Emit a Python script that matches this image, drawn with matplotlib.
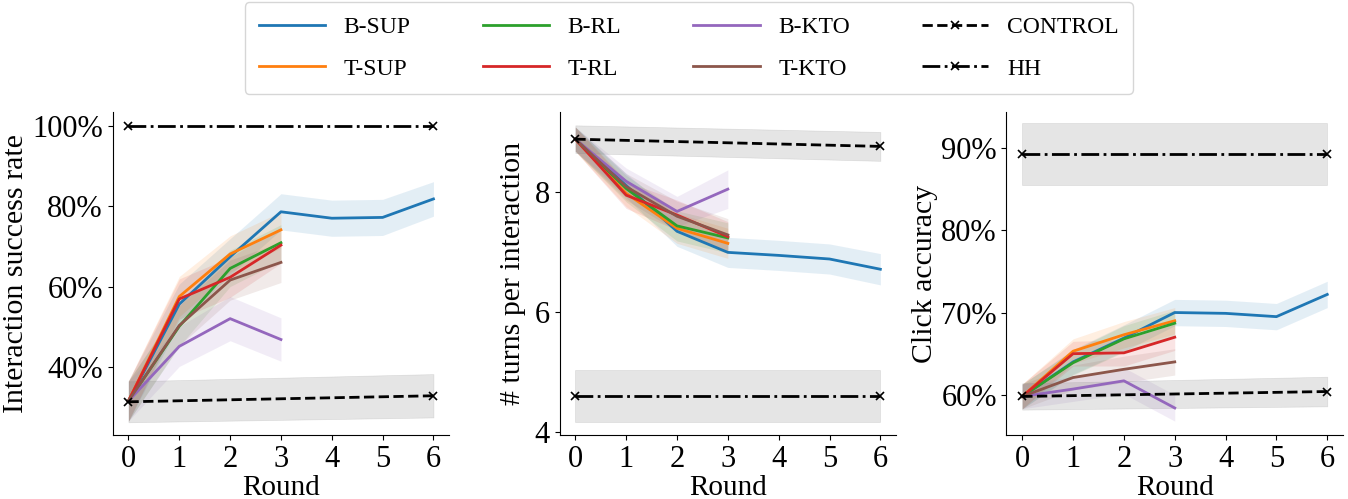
import matplotlib
matplotlib.use('Agg')
import matplotlib.pyplot as plt
from matplotlib.ticker import FuncFormatter

plt.rcParams['font.family'] = ['Liberation Serif', 'DejaVu Serif']

ROUNDS = [0, 1, 2, 3, 4, 5, 6]
BASE_ROUNDS = [0, 6]

METHODS = ['B-SUP', 'T-SUP', 'B-RL', 'T-RL', 'B-KTO', 'T-KTO']
METHOD_COLORS = {
    'B-SUP': '#1f77b4',
    'T-SUP': '#ff7f0e',
    'B-RL': '#2ca02c',
    'T-RL': '#d62728',
    'B-KTO': '#9467bd',
    'T-KTO': '#8c564b',
}

# interaction success rate (%)
success_mean = {
    'B-SUP': [31.5, 55.6, 67.4, 78.6, 77.0, 77.2, 81.8],
    'T-SUP': [31.5, 57.5, 68.1, 74.1],
    'B-RL': [31.5, 50.1, 64.5, 70.9],
    'T-RL': [31.5, 56.9, 62.3, 70.3],
    'B-KTO': [31.5, 45.1, 52.0, 46.8],
    'T-KTO': [31.5, 50.3, 61.6, 66.0],
}
success_err = {
    'B-SUP': [5.0, 5.0, 4.5, 4.5, 4.5, 4.5, 4.3],
    'T-SUP': [5.0, 5.0, 4.5, 4.5],
    'B-RL': [5.0, 5.0, 4.5, 4.5],
    'T-RL': [5.0, 5.0, 5.0, 4.5],
    'B-KTO': [5.0, 5.0, 5.5, 5.4],
    'T-KTO': [5.0, 5.0, 5.0, 5.0],
}
success_control = [31.3, 32.8]
success_control_err = [5.1, 5.4]
success_hh = [100.0, 100.0]
success_hh_err = [0.0, 0.0]

# turns per interaction
turns_mean = {
    'B-SUP': [8.87, 8.10, 7.34, 6.99, 6.94, 6.88, 6.71],
    'T-SUP': [8.87, 7.97, 7.39, 7.14],
    'B-RL': [8.87, 8.05, 7.43, 7.23],
    'T-RL': [8.87, 7.94, 7.61, 7.25],
    'B-KTO': [8.87, 8.17, 7.67, 8.04],
    'T-KTO': [8.87, 8.08, 7.59, 7.28],
}
turns_err = {
    'B-SUP': [0.2, 0.2, 0.25, 0.25, 0.25, 0.25, 0.26],
    'T-SUP': [0.2, 0.22, 0.25, 0.25],
    'B-RL': [0.2, 0.22, 0.25, 0.25],
    'T-RL': [0.2, 0.22, 0.25, 0.25],
    'B-KTO': [0.2, 0.22, 0.25, 0.32],
    'T-KTO': [0.2, 0.22, 0.25, 0.27],
}
turns_control = [8.87, 8.75]
turns_control_err = [0.23, 0.24]
turns_hh = [4.61, 4.61]
turns_hh_err = [0.43, 0.43]

# click accuracy (%)
click_mean = {
    'B-SUP': [59.8, 64.0, 66.9, 70.0, 69.9, 69.5, 72.2],
    'T-SUP': [59.8, 65.3, 67.3, 69.0],
    'B-RL': [59.8, 63.9, 66.8, 68.7],
    'T-RL': [59.8, 65.0, 65.1, 67.0],
    'B-KTO': [59.8, 60.7, 61.7, 58.4],
    'T-KTO': [59.8, 62.1, 63.1, 64.0],
}
click_err = {
    'B-SUP': [1.5, 1.5, 1.6, 1.6, 1.6, 1.6, 1.6],
    'T-SUP': [1.5, 1.5, 1.6, 1.6],
    'B-RL': [1.5, 1.5, 1.6, 1.6],
    'T-RL': [1.5, 1.5, 1.6, 1.6],
    'B-KTO': [1.5, 1.5, 1.6, 1.6],
    'T-KTO': [1.5, 1.5, 1.6, 1.6],
}
click_control = [59.8, 60.4]
click_control_err = [1.6, 1.8]
click_hh = [89.3, 89.3]
click_hh_err = [3.75, 3.75]


def draw_panel(ax, means, errs, control, control_err, hh, hh_err):
    for m in METHODS:
        y = means[m]
        e = errs[m]
        x = ROUNDS[:len(y)]
        c = METHOD_COLORS[m]
        ax.fill_between(x, [a - b for a, b in zip(y, e)], [a + b for a, b in zip(y, e)],
                        color=c, alpha=0.12, linewidth=0)
        ax.plot(x, y, color=c, linewidth=2, label=m)

    for vals, err, ls, lab in [(control, control_err, '--', 'CONTROL'), (hh, hh_err, '-.', 'HH')]:
        if max(err) > 0:
            ax.fill_between(BASE_ROUNDS, [a - b for a, b in zip(vals, err)],
                            [a + b for a, b in zip(vals, err)], color='gray', alpha=0.2, linewidth=0.5)
        ax.plot(BASE_ROUNDS, vals, color='black', linestyle=ls, linewidth=2,
                marker='x', markersize=6, markeredgewidth=1.2, label=lab)

    ax.spines['top'].set_visible(False)
    ax.spines['right'].set_visible(False)
    ax.set_xticks(ROUNDS)
    ax.set_xlim(-0.31, 6.31)
    ax.set_xlabel('Round', fontsize=21, labelpad=1)
    ax.tick_params(axis='both', labelsize=22)


fig, axes = plt.subplots(1, 3, figsize=(13.48, 4.99), dpi=100)
fig.subplots_adjust(left=0.0836, right=0.9963, bottom=0.128, top=0.776, wspace=0.328)

pct = FuncFormatter(lambda v, p: f'{v:.0f}%')

draw_panel(axes[0], success_mean, success_err, success_control, success_control_err,
           success_hh, success_hh_err)
axes[0].set_ylim(23.0, 103.5)
axes[0].set_yticks([40, 60, 80, 100])
axes[0].yaxis.set_major_formatter(pct)
axes[0].set_ylabel('Interaction success rate', fontsize=21.5, labelpad=2)

draw_panel(axes[1], turns_mean, turns_err, turns_control, turns_control_err,
           turns_hh, turns_hh_err)
axes[1].set_ylim(3.955, 9.325)
axes[1].set_yticks([4, 6, 8])
axes[1].set_ylabel('# turns per interaction', fontsize=21.5, labelpad=6)

draw_panel(axes[2], click_mean, click_err, click_control, click_control_err,
           click_hh, click_hh_err)
axes[2].set_ylim(55.1, 94.4)
axes[2].set_yticks([60, 70, 80, 90])
axes[2].yaxis.set_major_formatter(pct)
axes[2].set_ylabel('Click accuracy', fontsize=21.5, labelpad=2)

handles, labels = axes[0].get_legend_handles_labels()
fig.legend(handles, labels, loc='upper center', bbox_to_anchor=(0.511, 1.0), ncol=4,
           fontsize=17, handlelength=2.8, handletextpad=0.8, columnspacing=3.05,
           labelspacing=0.85, borderpad=0.6, borderaxespad=0.1,
           frameon=True, edgecolor='#cccccc', fancybox=True)

fig.savefig('out.png', dpi=100)
